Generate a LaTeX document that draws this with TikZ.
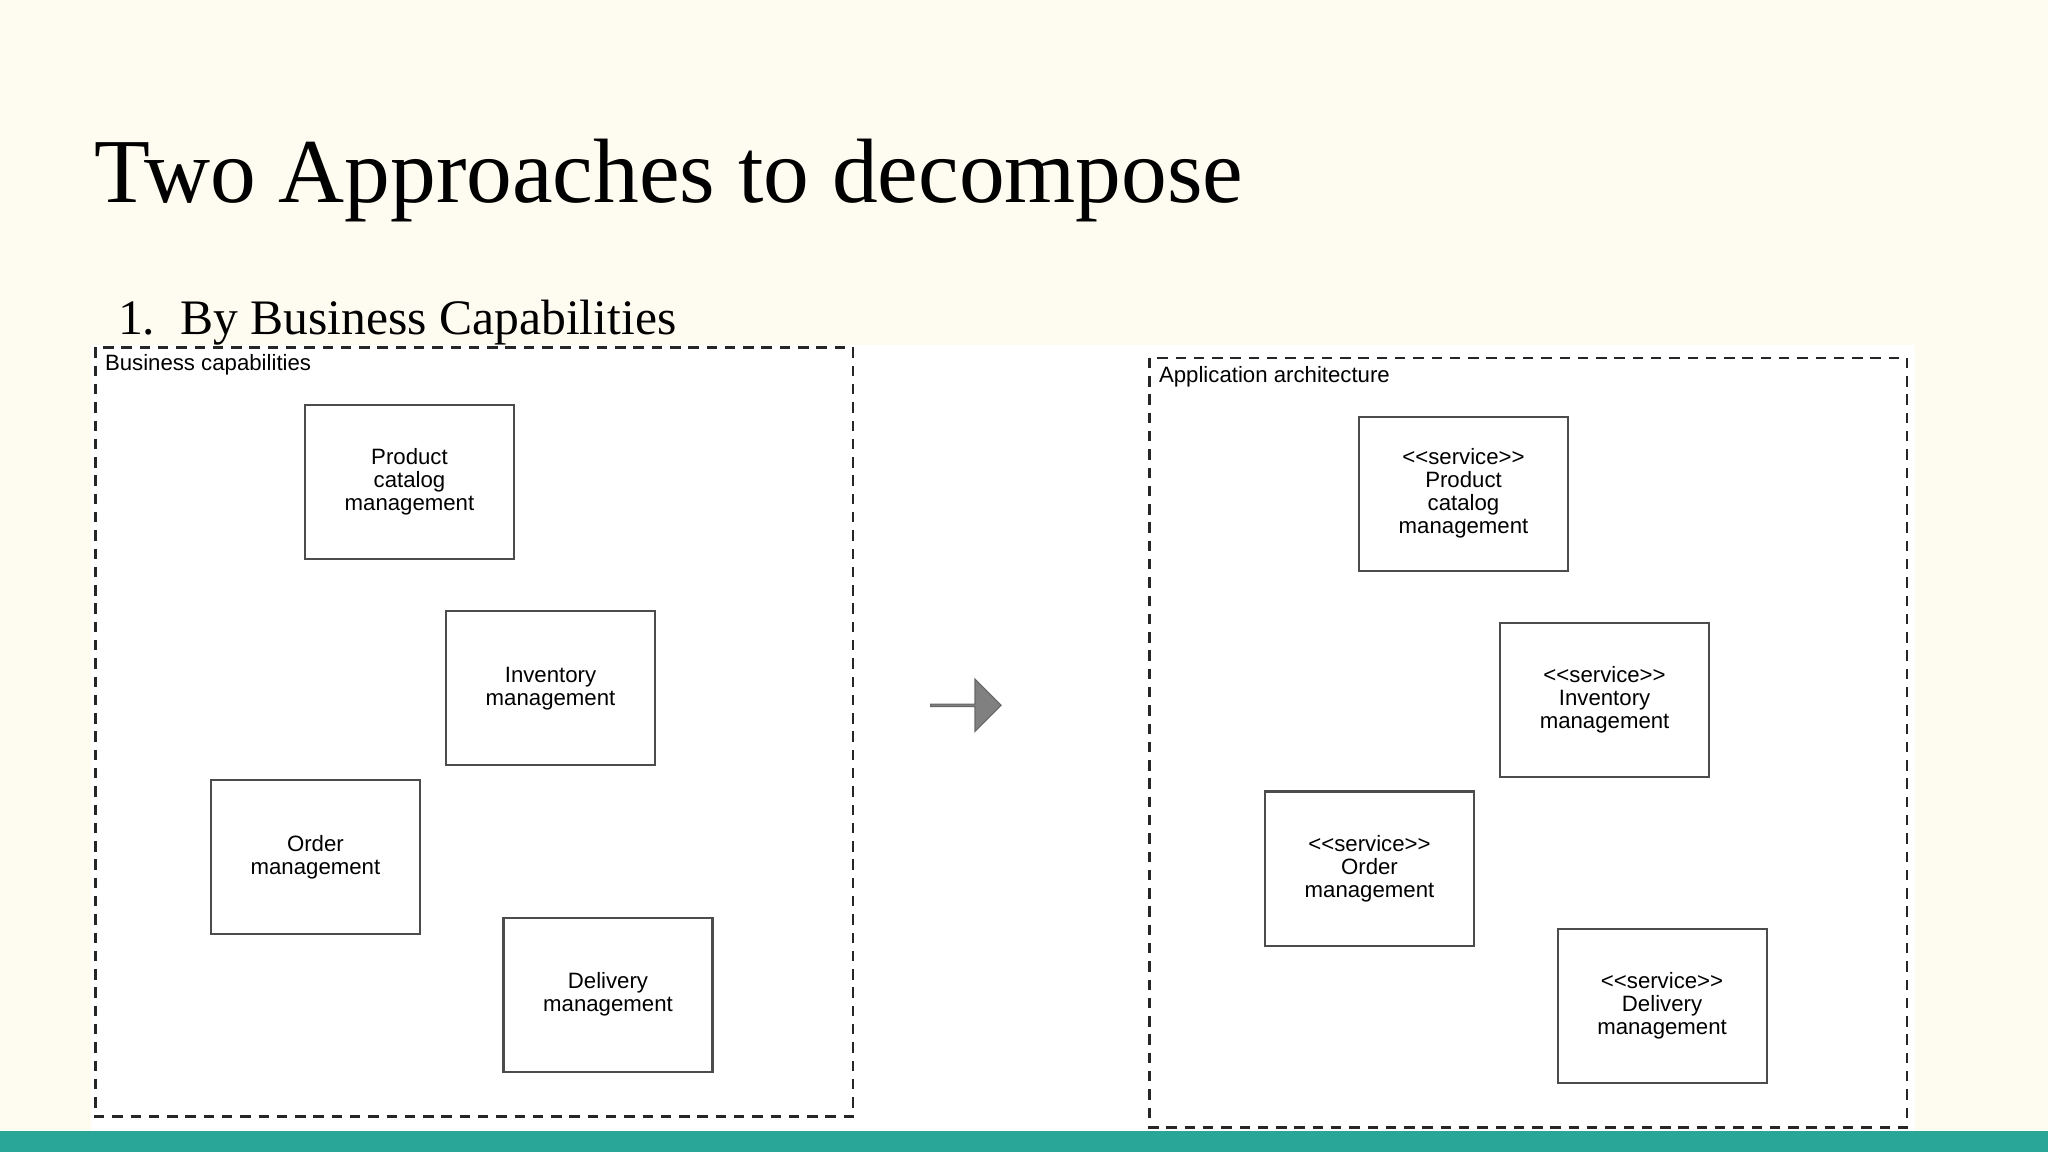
\documentclass[tikz,border=0pt]{standalone}
\usepackage{fontspec}
\setmainfont{Liberation Serif}
\newfontfamily\boxfont{Liberation Sans}
\usetikzlibrary{shapes.arrows}
\definecolor{cream}{HTML}{FEFBF0}
\definecolor{teal}{HTML}{2AA698}
\tikzset{
  capbox/.style={draw=black!70,line width=0.8pt,fill=white,minimum width=80pt,minimum height=59pt,align=center,font=\boxfont\fontsize{8.5}{8.8}\selectfont,inner sep=1pt},
  frame/.style={draw=black!85,dashed,line width=1pt,dash pattern=on 4pt off 3pt},
  flabel/.style={anchor=north west,inner sep=0pt,font=\boxfont\fontsize{8.5}{9}\selectfont}
}
\begin{document}
\begin{tikzpicture}[x=0.5pt,y=-0.5pt]
\fill[cream] (0,0) rectangle (1568,882);
\useasboundingbox (0,0) rectangle (1568,882);
\fill[white] (70,264) rectangle (1466,866);
\fill[teal] (0,866) rectangle (1568,882);
\node[anchor=base west,inner sep=0pt,font=\fontsize{35}{40}\selectfont] (title) at (72,155) {Two Approaches to decompose};
\node[anchor=base west,inner sep=0pt,font=\fontsize{19}{22}\selectfont] (sub) at (90,256) {1.\ \ By Business Capabilities};
\draw[frame] (73,266) rectangle (653,855);
\node[flabel] (bl) at (80,271) {Business capabilities};
\node[capbox] (p1) at (313.5,369) {Product\\catalog\\management};
\node[capbox] (i1) at (421.5,527) {Inventory\\management};
\node[capbox] (o1) at (241.5,656) {Order\\management};
\node[capbox] (d1) at (465.5,761.5) {Delivery\\management};
\node[single arrow,draw=black!60,fill=black!50,minimum height=27pt,minimum width=20pt,single arrow head extend=4pt,inner sep=0pt] (arr) at (739,540) {};
\draw[frame] (880,274) rectangle (1460,863);
\node[flabel] (al) at (887,280) {Application architecture};
\node[capbox] (p2) at (1120.5,378) {<{}<service>{}>\\Product\\catalog\\management};
\node[capbox] (i2) at (1228.5,536) {<{}<service>{}>\\Inventory\\management};
\node[capbox] (o2) at (1048.5,665) {<{}<service>{}>\\Order\\management};
\node[capbox] (d2) at (1272.5,770) {<{}<service>{}>\\Delivery\\management};
\end{tikzpicture}
\end{document}
